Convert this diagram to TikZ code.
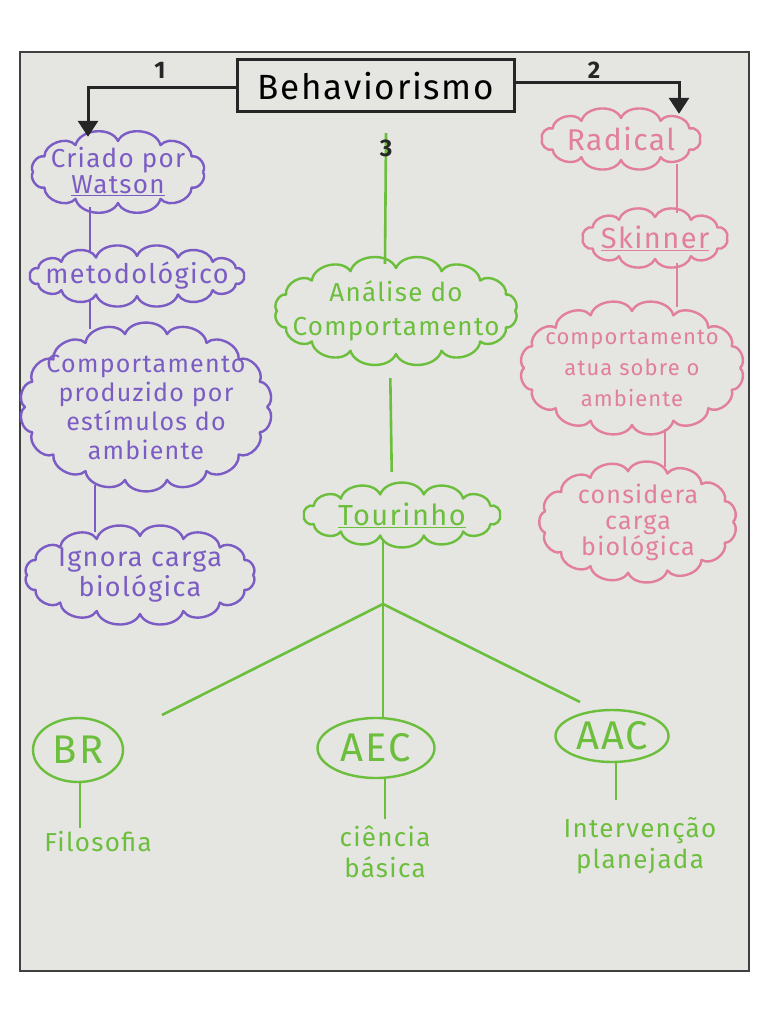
\documentclass[tikz,border=0pt]{standalone}
\usepackage{fontspec}
\setmainfont{Fira Sans}[LetterSpace=5]
\usetikzlibrary{shapes.geometric,arrows.meta}
\definecolor{roxo}{HTML}{7B5CC4}
\definecolor{rosa}{HTML}{E27E9E}
\definecolor{verde}{HTML}{6CBF3C}
\definecolor{papel}{HTML}{E5E5E1}
\newcommand{\fonteFolha}{\fontsize{26}{31}\selectfont}
% #1 cor, #2 nome, #3 centro, #4 raio x, #5 raio y, #6 puffs, #7 fonte, #8 texto
\newcommand{\nuvem}[8]{%
  \node[ellipse, inner sep=0pt, minimum width={2*(#4+4)}, minimum height={2*(#5+4)}]
    (#2) at (#3) {};
  \begin{scope}[shift={(#3)}]
    \draw[draw=#1, line width=2.4pt, line join=round]
      (0:#4 and #5) \foreach \k in {1,...,#6} { to[bend left=70] ({\k*360/#6}:#4 and #5) };
  \end{scope}
  \node[text=#1, align=center, font=#7] (#2-txt) at (#2.center) {#8};
}

\begin{document}
\begin{tikzpicture}[x=1pt,y=-1pt,
  sigla/.style={ellipse, draw=verde, text=verde, line width=2.4pt, inner sep=0pt,
    font=\fontsize{40}{40}\selectfont},
  folha/.style={text=verde, align=center, font=\fonteFolha},
  numero/.style={font=\fontsize{24}{24}\selectfont\bfseries, text=black!85},
  linharoxa/.style={draw=roxo, line width=2.6pt},
  linharosa/.style={draw=rosa, line width=2.2pt},
  linhaverde/.style={draw=verde, line width=2.6pt},
  seta/.style={draw=black!85, line width=3pt, -{Triangle[length=16pt,width=20pt]}}]

  \useasboundingbox (0,0) rectangle (768,1024);
  % folha de papel
  \fill[white] (0,0) rectangle (768,1024);
  \draw[fill=papel, draw=black!75, line width=1.5pt] (20,52) rectangle (749,971);

  % titulo
  \node[draw=black!85, line width=3pt, minimum width=277, minimum height=52,
    font=\fontsize{35}{35}\selectfont] (titulo) at (376,86) {Behaviorismo};
  \node[numero] (um) at (160,70) {1};
  \node[numero] (dois) at (594,70) {2};

  % ramo 1
  \nuvem{roxo}{watson}{118,172}{85}{31}{12}{\fontsize{26}{26}\selectfont}
    {Criado por\\\underline{Watson}}
  \nuvem{roxo}{metod}{137,276}{107}{20}{16}{\fontsize{27}{27}\selectfont}
    {metodológico}
  \nuvem{roxo}{estim}{146,407}{121}{74}{18}{\fontsize{25}{29}\selectfont}
    {Comportamento\\produzido por\\estímulos do\\ambiente}
  \nuvem{roxo}{ignora}{140,575}{113}{39}{16}{\fontsize{27}{30}\selectfont}
    {Ignora carga\\biológica}
  \draw[linharoxa] ([xshift=-28pt]watson.south) -- ([xshift=-47pt]metod.north);
  \draw[linharoxa] ([xshift=-47pt]metod.south) -- ([xshift=-56pt]estim.north);
  \draw[linharoxa] ([xshift=-51pt]estim.south) -- ([xshift=-45pt]ignora.north);

  % ramo 2
  \nuvem{rosa}{radical}{621,139}{79}{21}{12}{\fontsize{30}{30}\selectfont}
    {Radical}
  \nuvem{rosa}{skinner}{655,238}{72}{21}{12}{\fontsize{29}{29}\selectfont}
    {\underline{Skinner}}
  \nuvem{rosa}{atua}{632,368}{108}{57}{16}{\fontsize{22}{31}\selectfont}
    {comportamento\\atua sobre o\\ambiente}
  \nuvem{rosa}{considera}{638,522}{95}{51}{15}{\fontsize{25}{26}\selectfont}
    {considera\\carga\\biológica}
  \draw[linharosa] ([xshift=56pt]radical.south) -- ([xshift=22pt]skinner.north);
  \draw[linharosa] ([xshift=22pt]skinner.south) -- ([xshift=45pt]atua.north);
  \draw[linharosa] ([xshift=33pt]atua.south) -- ([xshift=27pt]considera.north);

  % setas do titulo
  \draw[seta] ([yshift=-2pt]titulo.west) -| ([xshift=-30pt]watson.north);
  \draw[seta] ([yshift=3pt]titulo.east) -| ([xshift=58pt]radical.north);

  % ramo 3
  \nuvem{verde}{analise}{396,311}{119}{43}{16}{\fontsize{26}{34}\selectfont}
    {Análise do\\Comportamento}
  \nuvem{verde}{tourinho}{402,515}{98}{21}{14}{\fontsize{29}{29}\selectfont}
    {\underline{Tourinho}}
  \coordinate (topo3) at (386,133);
  \draw[linhaverde] (topo3) -- ([xshift=-11pt]analise.north);
  \node[numero] (tres) at (386,148) {3};
  \draw[linhaverde, shorten <=20pt, shorten >=18pt]
    ([xshift=-6pt]analise.south) -- ([xshift=-10pt]tourinho.north);

  \coordinate (juncao) at (383,604);
  \coordinate (fimBR) at (162,715);
  \coordinate (fimAAC) at (580,702);
  \draw[linhaverde] ([xshift=-19pt]tourinho.south) -- (juncao);

  \node[sigla, minimum width=90, minimum height=64] (br) at (78,750) {BR};
  \node[sigla, minimum width=117, minimum height=60] (aec) at (376,748) {AEC};
  \node[sigla, minimum width=113, minimum height=52] (aac) at (612,736) {AAC};
  \draw[linhaverde] (juncao) -- (fimBR);
  \draw[linhaverde] (juncao) -- ([xshift=7pt]aec.north);
  \draw[linhaverde] (juncao) -- (fimAAC);

  \node[folha] (filosofia) at (98,842) {Filosofia};
  \node[folha] (ciencia) at (385,852) {ciência\\básica};
  \node[folha] (interv) at (640,846) {Intervenção\\planejada};
  \draw[linhaverde] ([xshift=2pt]br.south) -- ([xshift=-18pt]filosofia.north);
  \draw[linhaverde, shorten >=4pt] ([xshift=9pt]aec.south) -- (ciencia.north);
  \draw[linhaverde, shorten >=14pt] ([xshift=4pt]aac.south) -- ([xshift=-24pt]interv.north);
\end{tikzpicture}
\end{document}
